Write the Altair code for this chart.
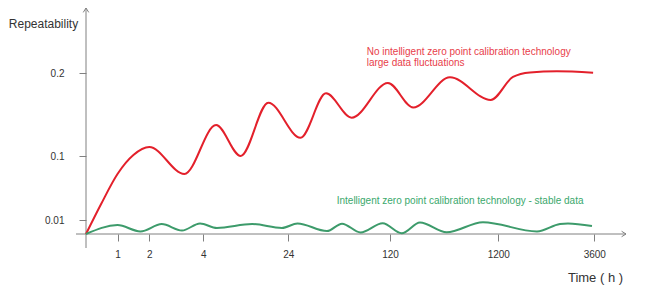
import altair as alt
import pandas as pd

# ---- data ----
tick_hours = [1, 2, 4, 24, 120, 1200, 3600]
tick_rep = [0.01, 0.1, 0.2]

hours_red = [0, 0.48, 1, 1.5, 2, 3.3, 7.0, 12.8, 19.3, 35.5, 59.6, 83.8, 118,
             352, 718, 1124, 1567, 1992, 2667, 3570]
rep_red = [0, 0.0325, 0.0747, 0.1012, 0.1108, 0.0747, 0.1373, 0.100, 0.1642,
           0.122, 0.1755, 0.1461, 0.188, 0.1584, 0.1948, 0.1675, 0.1952,
           0.2006, 0.202, 0.2004]

hours_green = [0, 1, 1.72, 2.46, 3.21, 3.88, 7.2, 15.5, 22.5, 32.7, 60.5, 74.7,
               92.2, 113.1, 236.6, 419, 685, 1047, 2167, 2742, 2942, 3542]
rep_green = [0, 0.0064, 0.0018, 0.0071, 0.0025, 0.0075, 0.0043, 0.0071, 0.0043,
             0.0075, 0.0021, 0.0074, 0.0011, 0.0076, 0.0005, 0.0082, 0.0012,
             0.0084, 0.0018, 0.0071, 0.0075, 0.0057]

label_red = ["No intelligent zero point calibration technology",
             "large data fluctuations"]
label_green = "Intelligent zero point calibration technology - stable data"
y_title = "Repeatability"
x_title = "Time ( h )"

# ---- styling ----
W, H = 540, 226
FONT = "Liberation Sans"
AXIS_GRAY = "#808080"
TEXT_GRAY = "#333333"
RED = "#e3202b"
RED_TEXT = "#e8404a"
GREEN = "#3d9b6b"
GREEN_TEXT = "#3aa86c"

df = pd.concat([
    pd.DataFrame({"hours": hours_red, "rep": rep_red, "series": "red"}),
    pd.DataFrame({"hours": hours_green, "rep": rep_green, "series": "green"}),
])
one = pd.DataFrame({"k": [0]})

x_scale = alt.Scale(domain=[0, 1, 2, 4, 24, 120, 1200, 3600, 4400],
                    range=[0, 31.5, 63.3, 117.3, 202.3, 304, 412.3, 508.3, 540],
                    nice=False, zero=False)
y_scale = alt.Scale(domain=[0, 0.01, 0.1, 0.2, 0.278],
                    range=[226, 212, 148, 65, 0],
                    nice=False, zero=False)

lines = alt.Chart(df).mark_line(interpolate="monotone", strokeWidth=2).encode(
    x=alt.X("hours:Q", scale=x_scale,
            axis=alt.Axis(values=tick_hours, format="d", domain=False, grid=False,
                          ticks=True, tickSize=7, tickColor=AXIS_GRAY, tickWidth=1,
                          labelFont=FONT, labelFontSize=10, labelColor=TEXT_GRAY,
                          labelPadding=8, labelFlush=False, labelOverlap=False,
                          title=x_title, titleFont=FONT, titleFontSize=13,
                          titleFontWeight="normal", titleColor=TEXT_GRAY,
                          titleX=509, titleY=43, titleAlign="center",
                          titleBaseline="middle")),
    y=alt.Y("rep:Q", scale=y_scale,
            axis=alt.Axis(values=tick_rep, format="~g", domain=False, grid=False,
                          ticks=True, tickSize=7, tickColor=AXIS_GRAY, tickWidth=1,
                          labelFont=FONT, labelFontSize=10, labelColor=TEXT_GRAY,
                          labelPadding=15, labelOverlap=False,
                          title=y_title, titleFont=FONT, titleFontSize=12,
                          titleFontWeight="normal", titleColor=TEXT_GRAY,
                          titleAngle=0, titleX=-43, titleY=15, titleAlign="center",
                          titleBaseline="middle")),
    color=alt.Color("series:N", scale=alt.Scale(domain=["red", "green"],
                                                range=[RED, GREEN]), legend=None),
)

xline = alt.Chart(one).mark_rule(color=AXIS_GRAY, strokeWidth=1).encode(
    x=alt.value(-10), x2=alt.value(W), y=alt.value(H))
yline = alt.Chart(one).mark_rule(color=AXIS_GRAY, strokeWidth=1).encode(
    x=alt.value(0), y=alt.value(0), y2=alt.value(H + 14))
xarrow = alt.Chart(one).mark_point(shape="M-1.6,-1L0,0L-1.6,1", size=30,
                                   filled=False, strokeWidth=1, color=AXIS_GRAY,
                                   opacity=1).encode(x=alt.value(W), y=alt.value(H))
yarrow = alt.Chart(one).mark_point(shape="M-1,1.6L0,0L1,1.6", size=30,
                                   filled=False, strokeWidth=1, color=AXIS_GRAY,
                                   opacity=1).encode(x=alt.value(0), y=alt.value(0))

red_text = alt.Chart(one).mark_text(text=label_red, align="left", baseline="middle",
                                    lineHeight=11, font=FONT, fontSize=10,
                                    color=RED_TEXT).encode(
    x=alt.value(280.7), y=alt.value(44))
green_text = alt.Chart(one).mark_text(text=label_green, align="left",
                                      baseline="middle", font=FONT, fontSize=10,
                                      color=GREEN_TEXT).encode(
    x=alt.value(250.7), y=alt.value(192.7))

chart = alt.layer(xline, yline, xarrow, yarrow, lines, red_text, green_text).properties(
    width=W, height=H,
    padding={"left": 86, "top": 8, "right": 24, "bottom": 51},
    autosize=alt.AutoSizeParams(type="none"),
    background="white",
).configure_view(stroke=None)

chart.save("out.html", embed_options={"renderer": "svg", "actions": False})
